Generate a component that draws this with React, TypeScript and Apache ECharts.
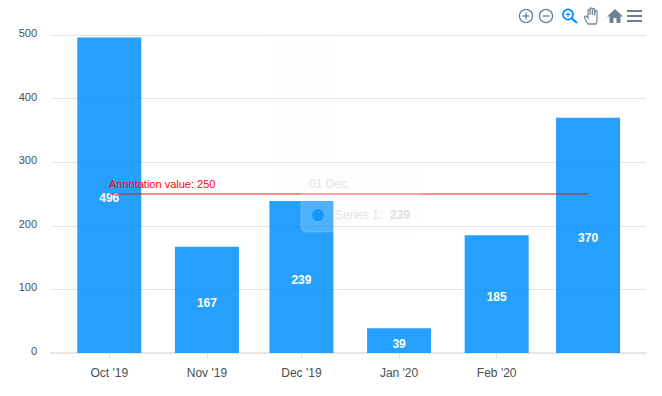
import React, { useEffect, useRef } from "react";
import * as echarts from "echarts";

const dates = ["2019-10-01", "2019-11-01", "2019-12-01", "2020-01-01", "2020-02-01", "2020-03-01"];
const values = [496, 167, 239, 39, 185, 370];
const tickDates = dates.slice(0, 5);
const annotationValue = 250;
const annotationLabel = "Annotation value: 250";
const tooltipTitle = "01 Dec";
const tooltipSeries = "Series 1:";
const tooltipValue = "239";

const DAY = 86400000;
const FONT = "Liberation Sans, Arial, sans-serif";

echarts.graphic.registerShape("hand", echarts.graphic.extendPath("M5 17 C3 14 1 11 1.5 9.5 C2.5 8.5 4 9.5 5 11 L5 3.5 C5 2 7 2 7 3.5 L7 8 L7 2 C7 .5 9.3 .5 9.3 2 L9.3 8 L9.5 2.5 C9.5 1 11.6 1 11.6 2.5 L11.6 8.5 L12 4.5 C12 3 14 3 14 4.5 L14 13 C14 15 13.5 16 13 17 Z", {}));
echarts.graphic.registerShape("home", echarts.graphic.extendPath("M6.5 15 L6.5 10 L9.5 10 L9.5 15 L13.5 15 L13.5 8.5 L16 8.5 L8 1 L0 8.5 L2.5 8.5 L2.5 15 Z", {}));

const toolColor = "#6E8192";

function icon(cx: number) {
  return [
    { type: "circle", shape: { cx, cy: 16, r: 6.5 }, style: { fill: "none", stroke: toolColor, lineWidth: 1.3 } },
    { type: "line", shape: { x1: cx - 3.5, y1: 16, x2: cx + 3.5, y2: 16 }, style: { stroke: toolColor, lineWidth: 1.3 } },
  ];
}

export default function App() {
  const ref = useRef<HTMLDivElement>(null);
  useEffect(() => {
    const chart = echarts.init(ref.current!, undefined, { renderer: "svg" });
    const t0 = Date.parse(dates[0]);
    const tN = Date.parse(dates[dates.length - 1]);
    const ticks = tickDates.map((d) => Date.parse(d));
    chart.setOption({
      animation: false,
      textStyle: { fontFamily: FONT },
      grid: { left: 51, right: 16, top: 35, bottom: 43 },
      xAxis: {
        type: "value",
        min: t0 - 18.5 * DAY,
        max: tN + 18.4 * DAY,
        axisLine: { lineStyle: { color: "#e6e6e6", width: 2 } },
        axisTick: { show: true, length: 6, customValues: ticks, lineStyle: { color: "#e0e0e0" } },
        axisLabel: {
          customValues: ticks,
          color: "#4a4f52",
          fontSize: 12,
          margin: 14,
          formatter: (v: number) => {
            const d = new Date(v);
            const m = ["Jan", "Feb", "Mar", "Apr", "May", "Jun", "Jul", "Aug", "Sep", "Oct", "Nov", "Dec"][d.getUTCMonth()];
            return `${m} '${String(d.getUTCFullYear()).slice(2)}`;
          },
        },
        splitLine: { show: false },
      },
      yAxis: {
        type: "value",
        min: 0,
        max: 500,
        interval: 100,
        axisLine: { show: false },
        axisTick: { show: false },
        axisLabel: { color: "#4a4f52", fontSize: 11, margin: 14, verticalAlign: "bottom", lineHeight: 4 },
        splitLine: { lineStyle: { color: "#e4e4e4" } },
      },
      series: [
        {
          type: "bar",
          barWidth: 64,
          data: dates.map((d, i) => [Date.parse(d), values[i]]),
          itemStyle: { color: "rgba(0,143,251,0.85)" },
          label: {
            show: true,
            position: "inside",
            offset: [0, 3],
            color: "#fff",
            fontSize: 12,
            fontWeight: "bold",
            fontFamily: FONT,
            formatter: (p: any) => String(p.value[1]),
          },
          markLine: {
            silent: true,
            symbol: "none",
            data: [
              [
                { coord: [t0, annotationValue], name: annotationLabel },
                { coord: [tN, annotationValue] },
              ],
            ],
            lineStyle: { color: "#ff0000", width: 1.5, type: "solid", opacity: 0.6 },
            label: { show: false },
          },
        },
      ],
      graphic: [
        { type: "text", z: 50, x: 109, y: 178, style: { text: annotationLabel, fill: "#ff0000", fontSize: 11, fontFamily: FONT } },
        // faded crosshair band and tooltip
        { type: "rect", z: 39, shape: { x: 271, y: 36, width: 62, height: 165 }, style: { fill: "rgba(0,0,0,0.004)" } },
        { type: "rect", z: 40, shape: { x: 301, y: 170, width: 120, height: 62, r: 5 }, style: { fill: "rgba(245,248,248,0.2)", stroke: "rgba(230,230,230,0.2)" } },
        { type: "text", z: 41, x: 309, y: 178, style: { text: tooltipTitle, fill: "#e4e4e4", fontSize: 12, fontFamily: FONT } },
        { type: "circle", z: 41, shape: { cx: 318, cy: 215, r: 6 }, style: { fill: "rgba(0,143,251,0.75)" } },
        { type: "text", z: 41, x: 335, y: 209, style: { text: tooltipSeries, fill: "#e4e4e4", fontSize: 12, fontFamily: FONT } },
        { type: "text", z: 41, x: 390, y: 209, style: { text: tooltipValue, fill: "#e0e0e0", fontSize: 12, fontWeight: "bold", fontFamily: FONT } },
        // toolbar
        ...icon(526),
        { type: "line", shape: { x1: 526, y1: 12.5, x2: 526, y2: 19.5 }, style: { stroke: toolColor, lineWidth: 1.3 } },
        ...icon(546),
        { type: "circle", shape: { cx: 568, cy: 14.5, r: 5 }, style: { fill: "none", stroke: "#008FFB", lineWidth: 1.7 } },
        { type: "line", shape: { x1: 572, y1: 18.5, x2: 577, y2: 23 }, style: { stroke: "#008FFB", lineWidth: 2.2 } },
        { type: "line", shape: { x1: 565.5, y1: 14.5, x2: 570.5, y2: 14.5 }, style: { stroke: "#008FFB", lineWidth: 1 } },
        { type: "line", shape: { x1: 568, y1: 12, x2: 568, y2: 17 }, style: { stroke: "#008FFB", lineWidth: 1 } },
        { type: "hand", x: 583, y: 7, style: { fill: "#fff", stroke: "#7f8c98", lineWidth: 1.3 } },
        { type: "home", x: 607, y: 8, style: { fill: toolColor } },
        { type: "rect", shape: { x: 627, y: 10, width: 15, height: 2 }, style: { fill: toolColor } },
        { type: "rect", shape: { x: 627, y: 15, width: 15, height: 2 }, style: { fill: toolColor } },
        { type: "rect", shape: { x: 627, y: 20, width: 15, height: 2 }, style: { fill: toolColor } },
      ],
    });
    return () => chart.dispose();
  }, []);
  return <div ref={ref} style={{ position: "absolute", left: 0, top: 0, width: 662, height: 396 }} />;
}
